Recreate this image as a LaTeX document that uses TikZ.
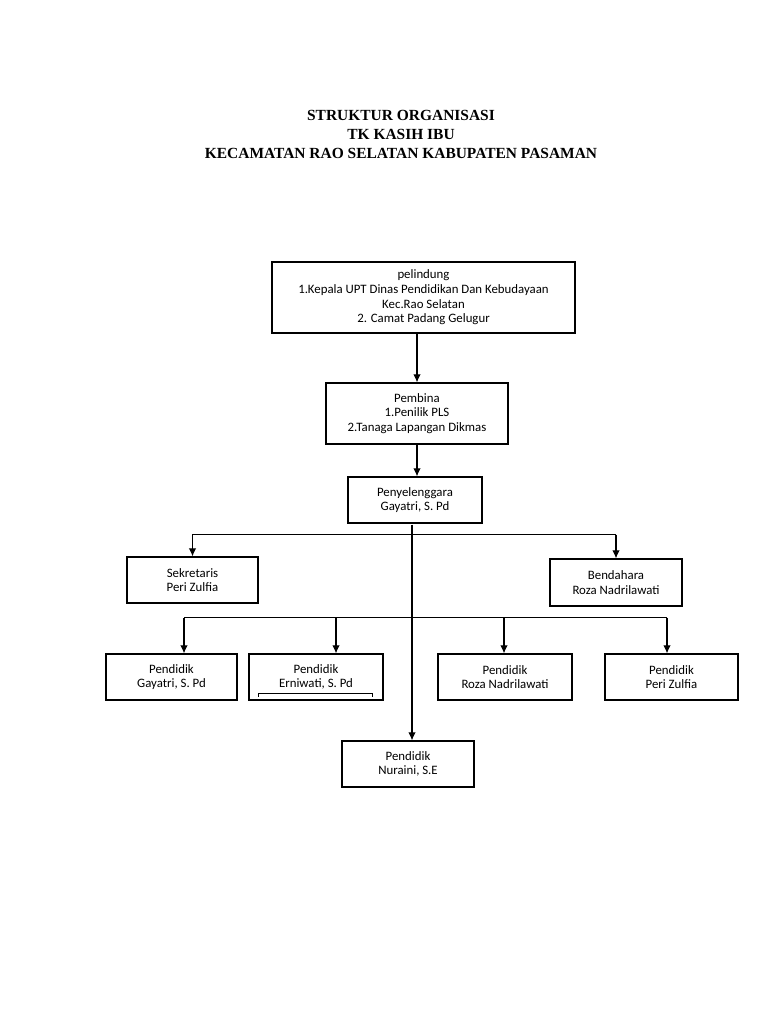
\documentclass[tikz,border=0pt]{standalone}
\usepackage{fontspec}
\usepackage{tikz}
\usetikzlibrary{arrows.meta, positioning, calc}
\newfontfamily\carlito{Carlito}
\newfontfamily\timesfont{Liberation Serif}
\tikzstyle{arrow} = [line width=0.6pt,-{Latex[length=4.5pt,width=4.2pt]}]
\tikzstyle{line} = [line width=0.6pt]
\tikzstyle{box} = [draw, line width=0.75pt, align=center, inner sep=0pt, font=\carlito\fontsize{7.3}{8.3}\selectfont]

\begin{document}
\begin{tikzpicture}[x=0.02cm, y=-0.02cm]
% Page
\fill[white] (0,0) rectangle (768,1024);
\useasboundingbox (0,0) rectangle (768,1024);

% Title
\node[align=center, font=\timesfont\bfseries\fontsize{8.8}{10.8}\selectfont] (title) at (401,134)
  {STRUKTUR ORGANISASI\\TK KASIH IBU\\KECAMATAN RAO SELATAN KABUPATEN PASAMAN};

% Top levels
\node[box, minimum width=6.06cm, minimum height=1.42cm] (pelindung) at (423.5,297.5)
  {pelindung\\1.Kepala UPT Dinas Pendidikan Dan Kebudayaan\\Kec.Rao Selatan\\2. Camat Padang Gelugur};
\node[box, minimum width=3.64cm, minimum height=1.22cm] (pembina) at (417,413.5)
  {Pembina\\1.Penilik PLS\\2.Tanaga Lapangan Dikmas};
\node[box, minimum width=2.68cm, minimum height=0.92cm] (peny) at (415,500)
  {Penyelenggara\\Gayatri, S. Pd};

% Sekretaris and Bendahara
\node[box, minimum width=2.62cm, minimum height=0.92cm] (sek) at (192.5,580)
  {Sekretaris\\Peri Zulfia};
\node[box, minimum width=2.64cm, minimum height=0.94cm] (ben) at (616,582.5)
  {Bendahara\\Roza Nadrilawati};

% Pendidik
\node[box, minimum width=2.62cm, minimum height=0.92cm] (pd1) at (171.5,677) {Pendidik\\Gayatri, S. Pd};
\node[box, minimum width=2.68cm, minimum height=0.92cm] (pd2) at (316,677) {Pendidik\\Erniwati, S. Pd};
\node[box, minimum width=2.68cm, minimum height=0.92cm] (pd3) at (505,677) {Pendidik\\Roza Nadrilawati};
\node[box, minimum width=2.66cm, minimum height=0.92cm] (pd4) at (671.5,677) {Pendidik\\Peri Zulfia};
\node[box, minimum width=2.64cm, minimum height=0.92cm] (pd5) at (408,764) {Pendidik\\Nuraini, S.E};

% bracket inside Erniwati box
\draw[line] ($(pd2.south west)+(10,-4)$) -- ++(0,-3) -- ($(pd2.south east)+(-11,-7)$) -- ++(0,3);

% Connectors
\draw[arrow] (pembina.north |- pelindung.south) -- (pembina.north);
\draw[arrow] (pembina.south) -- (pembina.south |- peny.north);

\coordinate (trunk) at ($(peny.south)+(-3,1)$);
\draw[arrow] (trunk) -- (trunk |- pd5.north);

\coordinate (bus1) at ($(trunk)+(0,10)$);
\draw[arrow] (ben.north |- bus1) -- (sek.north |- bus1) -- (sek.north);
\draw[arrow] (ben.north |- bus1) -- (ben.north);

\coordinate (a1) at ($(pd1.north)+(12.5,0)$);
\coordinate (a2) at ($(pd2.north)+(20,0)$);
\coordinate (a3) at ($(pd3.north)+(-1,0)$);
\coordinate (a4) at ($(pd4.north)+(-4.5,0)$);
\coordinate (bus2) at ($(trunk)+(0,93)$);
\draw[line] (a1 |- bus2) -- (a4 |- bus2);
\draw[arrow] (a1 |- bus2) -- (a1);
\draw[arrow] (a2 |- bus2) -- (a2);
\draw[arrow] (a3 |- bus2) -- (a3);
\draw[arrow] (a4 |- bus2) -- (a4);
\end{tikzpicture}
\end{document}
